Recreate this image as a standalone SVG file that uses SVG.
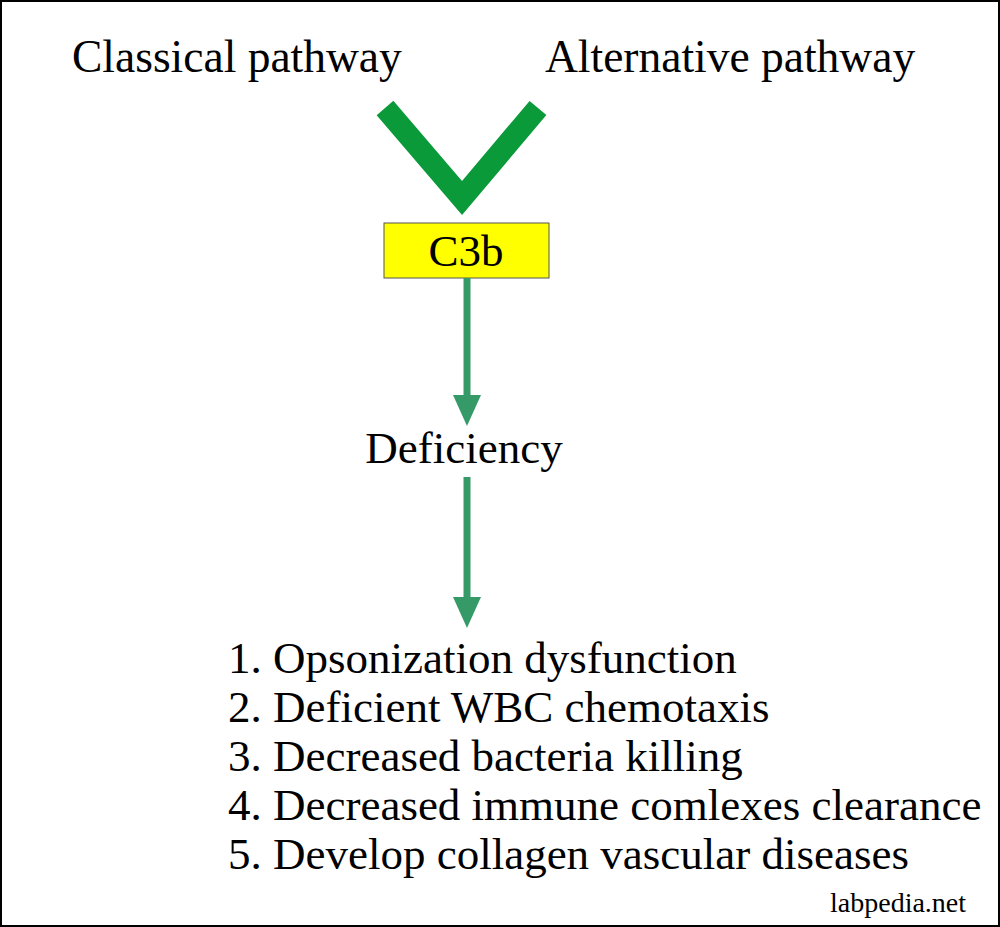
<svg xmlns="http://www.w3.org/2000/svg" width="1000" height="927" viewBox="0 0 1000 927">
<style>
text{font-family:"Liberation Serif","Times New Roman",serif;fill:#000}
.t{font-size:45.5px}
.l{font-size:45px}
.ar{stroke:#369a68;stroke-width:7;fill:none}
.ah{fill:#369a68}
</style>
<rect x="1" y="1" width="998" height="925" fill="#fff" stroke="#000" stroke-width="2"/>
<g id="classical"><text class="t" x="72" y="72">Classical pathway</text></g>
<g id="alternative"><text class="t" x="545" y="72">Alternative pathway</text></g>
<g id="c3b"><rect x="384" y="223" width="165" height="55" fill="#ffff00" stroke="#555" stroke-width="1"/><text class="l" x="466" y="266" text-anchor="middle">C3b</text></g>
<g id="deficiency"><text class="l" x="464" y="463" text-anchor="middle">Deficiency</text></g>
<g id="list">
<text class="l" x="228" y="673">1. Opsonization dysfunction</text>
<text class="l" x="228" y="722">2. Deficient WBC chemotaxis</text>
<text class="l" x="228" y="771">3. Decreased bacteria killing</text>
<text class="l" x="228" y="820">4. Decreased immune comlexes clearance</text>
<text class="l" x="228" y="869">5. Develop collagen vascular diseases</text>
</g>
<g id="credit"><text x="830" y="912" font-size="28">labpedia.net</text></g>
<g id="connectors">
<polyline points="385,108 462,198 538,108" fill="none" stroke="#0a9a3a" stroke-width="22"/>
<line class="ar" x1="467" y1="278" x2="467" y2="396"/>
<polygon class="ah" points="453,395 481,395 467,426"/>
<line class="ar" x1="467" y1="477" x2="467" y2="598"/>
<polygon class="ah" points="453,597 481,597 467,628"/>
</g>
</svg>
